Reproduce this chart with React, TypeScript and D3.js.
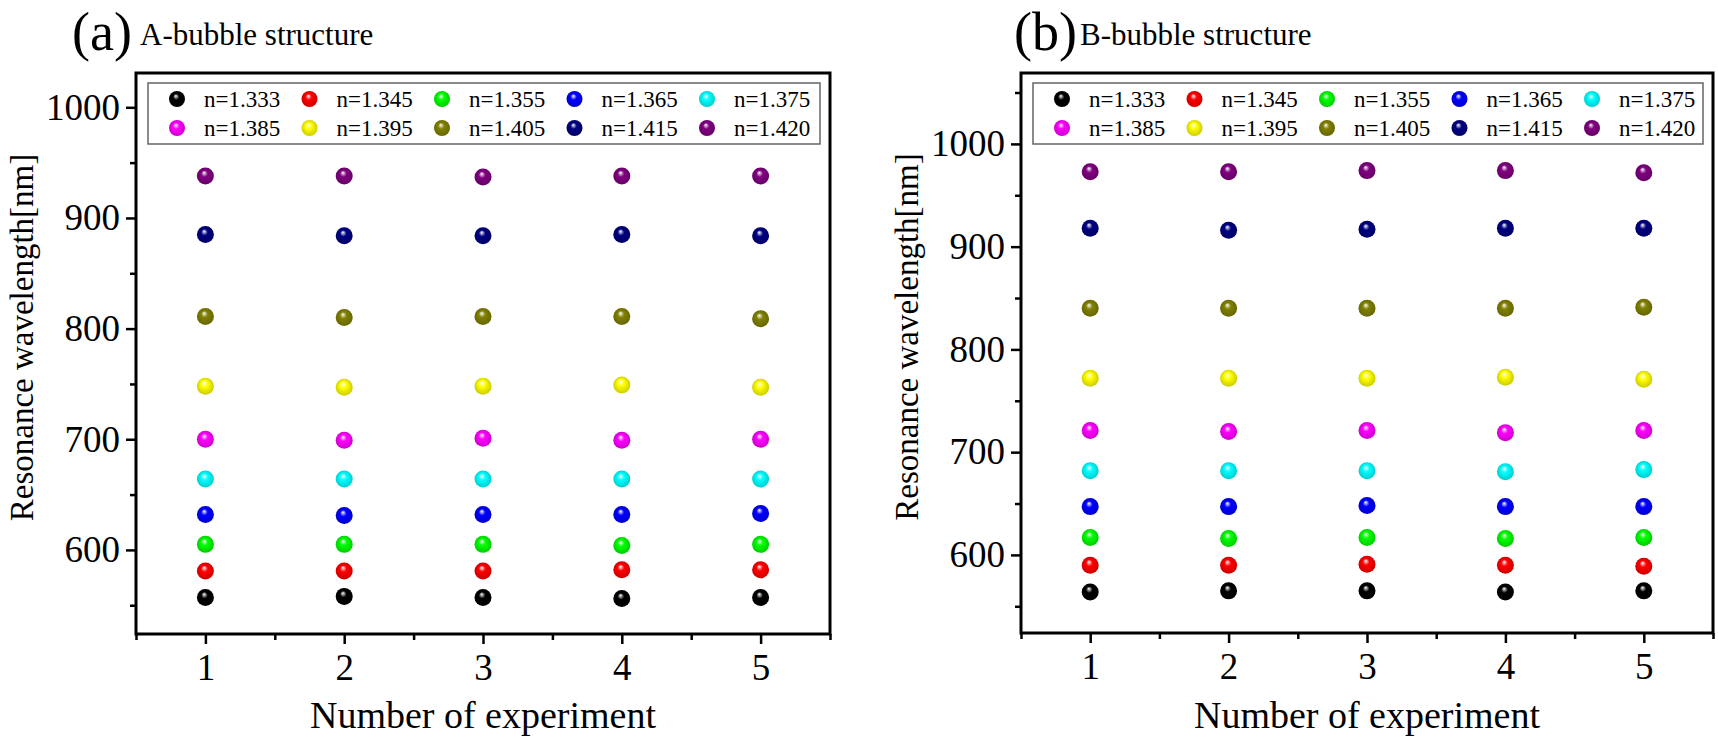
import { useEffect, useRef } from "react";
import * as d3 from "d3";

// experiment numbers on the x axis
const experiments = [1, 2, 3, 4, 5];

// refractive index of each series, and its marker colour
const indexLabels = ["n=1.333", "n=1.345", "n=1.355", "n=1.365", "n=1.375", "n=1.385", "n=1.395", "n=1.405", "n=1.415", "n=1.420"];
const seriesColors = ["#000000", "#ff0000", "#00ff00", "#0000ff", "#00ffff", "#ff00ff", "#ffff00", "#808000", "#000080", "#800080"];

// resonance wavelength (nm), one row per index, one value per experiment
const bubbleA = [
  [557, 558, 557, 556, 557],
  [581, 581, 581, 582, 582],
  [605, 605, 605, 604, 605],
  [632, 631, 632, 632, 633],
  [664, 664, 664, 664, 664],
  [700, 699, 701, 699, 700],
  [748, 747, 748, 749, 747],
  [811, 810, 811, 811, 809],
  [885, 884, 884, 885, 884],
  [938, 938, 937, 938, 938],
];

const bubbleB = [
  [564, 565, 565, 564, 565],
  [590, 590, 591, 590, 589],
  [617, 616, 617, 616, 617],
  [647, 647, 648, 647, 647],
  [682, 682, 682, 681, 683],
  [721, 720, 721, 719, 721],
  [772, 772, 772, 773, 771],
  [840, 840, 840, 840, 841],
  [918, 916, 917, 918, 918],
  [973, 973, 974, 974, 972],
];

const yTicks = [600, 700, 800, 900, 1000];

const FONT = "'Liberation Serif', 'Times New Roman', serif";

export default function App() {
  const svgRef = useRef<SVGSVGElement | null>(null);

  useEffect(() => {
    const svg = d3.select(svgRef.current);
    svg.selectAll("*").remove();

    // sphere-like gradients for the markers
    const defs = svg.append("defs");
    seriesColors.forEach((c, i) => {
      const g = defs
        .append("radialGradient")
        .attr("id", `ball${i}`)
        .attr("cx", "50%")
        .attr("cy", "50%")
        .attr("r", "55%")
        .attr("fx", "42%")
        .attr("fy", "30%");
      g.append("stop").attr("offset", "0%").attr("stop-color", "#ffffff");
      g.append("stop").attr("offset", "35%").attr("stop-color", c);
      g.append("stop")
        .attr("offset", "100%")
        .attr("stop-color", d3.color(c)!.darker(0.7).formatHex());
    });

    const panels = [
      { tag: "(a)", title: "A-bubble structure", data: bubbleA, left: 136, right: 830, top: 73, bottom: 634, yDomain: [524, 1031], minor: [550, 650, 750, 850, 950], tagX: 72, titleX: 140 },
      { tag: "(b)", title: "B-bubble structure", data: bubbleB, left: 1021, right: 1713, top: 73, bottom: 633, yDomain: [524, 1069], minor: [550, 650, 750, 850, 950, 1050], tagX: 1014, titleX: 1080 },
    ];

    panels.forEach((p) => {
      const x = d3.scaleLinear().domain([0.5, 5.5]).range([p.left, p.right]);
      const y = d3.scaleLinear().domain(p.yDomain).range([p.bottom, p.top]);
      const g = svg.append("g");

      // panel heading
      g.append("text")
        .attr("x", p.tagX)
        .attr("y", 50)
        .style("font-family", FONT)
        .style("font-size", "54px")
        .text(p.tag);
      g.append("text")
        .attr("x", p.titleX)
        .attr("y", 45)
        .style("font-family", FONT)
        .style("font-size", "31px")
        .text(p.title);

      // y axis, major + minor ticks
      const yMajor = g
        .append("g")
        .attr("transform", `translate(${p.left},0)`)
        .call(d3.axisLeft(y).tickValues(yTicks).tickSize(10).tickPadding(6).tickFormat(d3.format("d")));
      const yMinor = g
        .append("g")
        .attr("transform", `translate(${p.left},0)`)
        .call(d3.axisLeft(y).tickValues(p.minor).tickSize(6).tickFormat(() => ""));

      // x axis, major + minor ticks
      const xMajor = g
        .append("g")
        .attr("transform", `translate(0,${p.bottom})`)
        .call(d3.axisBottom(x).tickValues(experiments).tickSize(10).tickPadding(10).tickFormat(d3.format("d")));
      const xMinor = g
        .append("g")
        .attr("transform", `translate(0,${p.bottom})`)
        .call(d3.axisBottom(x).tickValues([0.5, 1.5, 2.5, 3.5, 4.5, 5.5]).tickSize(6).tickFormat(() => ""));

      [yMajor, yMinor, xMajor, xMinor].forEach((a) => {
        a.select(".domain").remove();
        a.selectAll("line").attr("stroke", "#000").attr("stroke-width", 2.5);
        a.selectAll("text").style("font-family", FONT).style("font-size", "37px").attr("fill", "#000");
      });

      // frame
      g.append("rect")
        .attr("x", p.left)
        .attr("y", p.top)
        .attr("width", p.right - p.left)
        .attr("height", p.bottom - p.top)
        .attr("fill", "none")
        .attr("stroke", "#000")
        .attr("stroke-width", 3);

      // axis titles
      g.append("text")
        .attr("transform", `translate(${p.left - 103},${(p.top + p.bottom) / 2 - 16}) rotate(-90)`)
        .attr("text-anchor", "middle")
        .style("font-family", FONT)
        .style("font-size", "33px")
        .text("Resonance wavelength[nm]");

      g.append("text")
        .attr("x", (p.left + p.right) / 2)
        .attr("y", 728)
        .attr("text-anchor", "middle")
        .style("font-family", FONT)
        .style("font-size", "38px")
        .text("Number of experiment");

      // legend
      const lg = g.append("g");
      lg.append("rect")
        .attr("x", p.left + 12)
        .attr("y", 83)
        .attr("width", p.right - p.left - 22)
        .attr("height", 61)
        .attr("fill", "#fff")
        .attr("stroke", "#666")
        .attr("stroke-width", 1.5);
      indexLabels.forEach((label, i) => {
        const col = i % 5;
        const row = Math.floor(i / 5);
        const mx = p.left + 41 + col * 132.5;
        const my = 99 + row * 29;
        lg.append("circle").attr("cx", mx).attr("cy", my).attr("r", 8).attr("fill", `url(#ball${i})`);
        lg.append("text")
          .attr("x", mx + 27)
          .attr("y", my + 8)
          .style("font-family", FONT)
          .style("font-size", "23px")
          .text(label);
      });

      // data points
      p.data.forEach((row, i) => {
        g.append("g")
          .selectAll("circle")
          .data(row)
          .enter()
          .append("circle")
          .attr("cx", (_, j) => x(experiments[j]))
          .attr("cy", (d) => y(d))
          .attr("r", 8.5)
          .attr("fill", `url(#ball${i})`);
      });
    });
  }, []);

  return (
    <svg
      ref={svgRef}
      width={1718}
      height={743}
      style={{ position: "absolute", left: 0, top: 0, background: "#fff" }}
    />
  );
}
